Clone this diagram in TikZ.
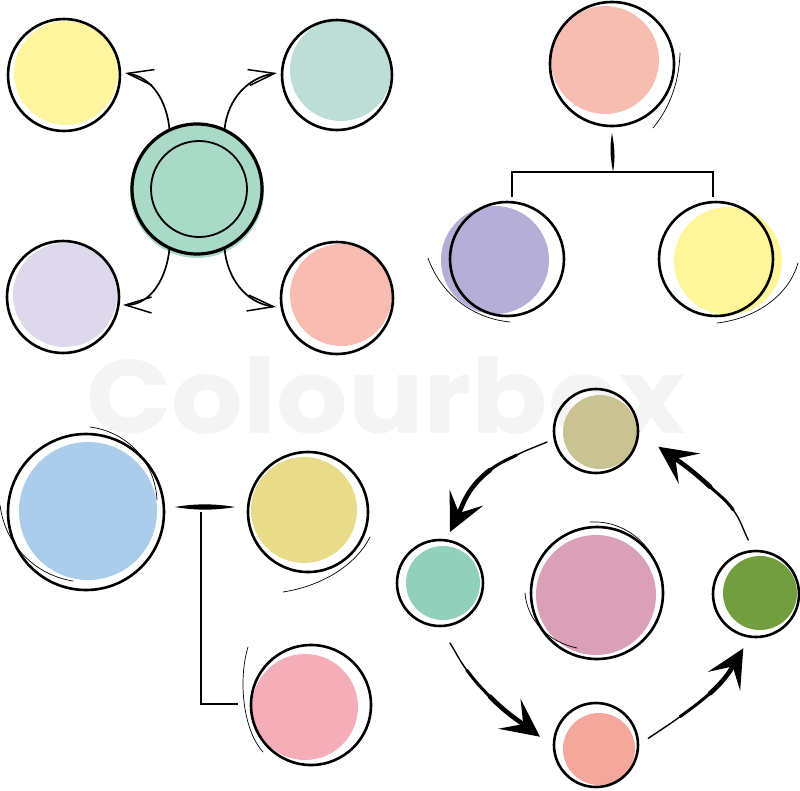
\documentclass[tikz,border=0pt]{standalone}
\usepackage{fontspec}
\newfontfamily\wmfont{Poppins}
\usetikzlibrary{arrows.meta}
\definecolor{cYelA}{HTML}{FFF59E}
\definecolor{cTeal}{HTML}{BDDED7}
\definecolor{cGreen}{HTML}{A9D9C7}
\definecolor{cLav}{HTML}{DDD8EC}
\definecolor{cSal}{HTML}{F8BCB0}
\definecolor{cSalT}{HTML}{F8BDB1}
\definecolor{cPur}{HTML}{B5AED6}
\definecolor{cYelB}{HTML}{FFF59B}
\definecolor{cBlue}{HTML}{ABCDEB}
\definecolor{cOlY}{HTML}{E8DC8A}
\definecolor{cPink}{HTML}{F5AEB8}
\definecolor{cOlv}{HTML}{C9C393}
\definecolor{cTea}{HTML}{91D1BC}
\definecolor{cPkC}{HTML}{D9A0B7}
\definecolor{cGrn}{HTML}{729E40}
\definecolor{cSalB}{HTML}{F5A79B}
\definecolor{cWm}{HTML}{F4F4F4}
\begin{document}
\begin{tikzpicture}[x=1pt,y=1pt,
  ring/.style={circle,draw=black,line width=2.6pt,inner sep=0pt,outer sep=0pt},
  sketch/.style={draw=black,line width=0.7pt,line cap=round},
  vline/.style={draw=black,line width=1.5pt},
  barb/.style={draw=black,line width=1.7pt,line cap=round,-{Straight Barb[length=26pt,width=16pt,line width=1.5pt]}},
  shaftA/.style={draw=black,line width=1.4pt,line cap=round},
  shaftB/.style={draw=black,line width=3pt,line cap=round},
  shaftC/.style={draw=black,line width=4.6pt,line cap=round,-{Stealth[length=38pt,width=37pt,inset=17pt]}},
]
\useasboundingbox (0,0) rectangle (800,-790);
\fill[white] (0,0) rectangle (800,-790);

% watermark
\node[text=cWm,font=\wmfont\bfseries\fontsize{104}{104}\selectfont,inner sep=0pt,anchor=base west,xscale=1.08] (wm) at (86,-433) {Colourbox};

% ---------- top-left: hub with four satellites ----------
\fill[cYelA] (66,-73) circle (52);
\node[ring,minimum size=112pt] (ylw) at (64,-75) {};
\fill[cTeal] (341,-70) circle (51);
\node[ring,minimum size=110pt] (tea) at (337,-75) {};
\fill[cGreen] (197,-191) circle (67);
\node[ring,line width=3.2pt,minimum size=130pt] (hub) at (197,-189) {};
\node[ring,line width=1.8pt,minimum size=96pt] (hubin) at (199,-189) {};
\fill[cLav] (65,-295) circle (52);
\node[ring,minimum size=112pt] (lav) at (63,-297) {};
\fill[cSal] (341,-295) circle (51);
\node[ring,minimum size=112pt] (sal) at (337,-298) {};

\coordinate (t1) at (125,-73);
\coordinate (t2) at (277,-73);
\coordinate (t3) at (123,-305);
\coordinate (t4) at (276,-307);
\draw[barb] (hub.115) to[out=95,in=-9] (t1);
\draw[barb] (hub.65) to[out=85,in=189] (t2);
\draw[barb] (hub.245) to[out=-95,in=0] (t3);
\draw[barb] (hub.295) to[out=-85,in=172] (t4);

% ---------- top-right: tree ----------
\fill[cSalT] (605,-60) circle (54);
\node[ring,minimum size=124pt] (root) at (612,-64) {};
\fill[cPur] (495,-260) circle (54);
\node[ring,minimum size=114pt] (pur) at (507,-259) {};
\fill[cYelB] (728,-261) circle (54);
\node[ring,minimum size=114pt] (yl2) at (716,-259) {};
\draw[sketch] (680,-53) .. controls (679,-85) and (668,-110) .. (653,-128);
\draw[sketch] (428,-258) .. controls (440,-292) and (470,-318) .. (510,-322);
\draw[sketch] (798,-263) .. controls (790,-292) and (760,-318) .. (717,-323);

\coordinate (tj) at (613,-172);
\fill ([yshift=-7pt]root.south) .. controls ++(-2.6,-15) and ++(-2.6,15) .. (tj)
      .. controls ++(2.6,15) and ++(2.6,-15) .. ([yshift=-7pt]root.south) -- cycle;
\draw[vline] ([shift={(5,5)}]pur.north) |- (tj) -| ([shift={(-3,5)}]yl2.north);

% ---------- bottom-left: bracket ----------
\fill[cBlue] (88,-511) circle (69);
\node[ring,minimum size=156pt] (blu) at (86,-512) {};
\draw[sketch] (90,-427) .. controls (128,-432) and (155,-462) .. (157,-500);
\draw[sketch] (0,-505) .. controls (5,-545) and (35,-575) .. (73,-581);
\fill[cOlY] (304,-510) circle (53);
\node[ring,minimum size=120pt] (oly) at (308,-512) {};
\draw[sketch] (370,-537) .. controls (356,-565) and (322,-586) .. (283,-592);
\fill[cPink] (305,-707) circle (53);
\node[ring,minimum size=120pt] (pnk) at (311,-705) {};
\draw[sketch] (248,-647) .. controls (238,-680) and (243,-730) .. (263,-752);

\coordinate (ba) at (175,-507);
\coordinate (bb) at (235,-507);
\coordinate (bc) at (201,-512);
\coordinate (bd) at (238,-704);
\fill (ba) .. controls (195,-503.5) and (215,-503.5) .. (bb)
      .. controls (215,-510.5) and (195,-510.5) .. (ba) -- cycle;
\draw[draw=black,line width=2pt] (bc) |- (bd);

% ---------- bottom-right: cycle ----------
\fill[cPkC] (596,-595) circle (60);
\node[ring,minimum size=132pt] (cen) at (597,-593) {};
\draw[sketch] (590,-522) .. controls (625,-520) and (655,-545) .. (663,-582);
\draw[sketch] (525,-593) .. controls (527,-620) and (548,-642) .. (577,-648);
\fill[cOlv] (600,-432) circle (37);
\node[ring,minimum size=84pt] (olv) at (596,-431) {};
\fill[cTea] (443,-583) circle (37);
\node[ring,minimum size=86pt] (tel) at (440,-583) {};
\fill[cGrn] (760,-593) circle (37);
\node[ring,minimum size=86pt] (grn) at (756,-594) {};
\fill[cSalB] (599,-749) circle (36);
\node[ring,minimum size=84pt] (slb) at (596,-745) {};

% arrow olive -> teal
\coordinate (a1) at (547,-442);
\coordinate (a1b) at (516.7,-455);
\coordinate (a1c) at (490,-470);
\coordinate (a1t) at (450,-532);
\draw[shaftA] (a1) to[out=203,in=26.6] (a1b);
\draw[shaftB] (a1b) to[out=206.6,in=37.3] (a1c);
\draw[shaftC] (a1c) to[out=217.3,in=64.5] (a1t);
% arrow teal -> salmon
\coordinate (a2) at (450,-643);
\coordinate (a2b) at (466.7,-670);
\coordinate (a2c) at (490,-696.7);
\coordinate (a2t) at (540,-736.7);
\draw[shaftA] (a2) to[out=-58,in=126.8] (a2b);
\draw[shaftB] (a2b) to[out=-53.2,in=135] (a2c);
\draw[shaftC] (a2c) to[out=-45,in=143.2] (a2t);
% arrow salmon -> green
\coordinate (a3) at (648.3,-738.3);
\coordinate (a3b) at (680,-716.7);
\coordinate (a3c) at (710,-693.3);
\coordinate (a3t) at (743.3,-648.3);
\draw[shaftA] (a3) to[out=34.3,in=216.2] (a3b);
\draw[shaftB] (a3b) to[out=36.2,in=221.4] (a3c);
\draw[shaftC] (a3c) to[out=41.4,in=239.7] (a3t);
% arrow green -> olive
\coordinate (a4) at (748.3,-540);
\coordinate (a4b) at (733.3,-510);
\coordinate (a4c) at (710,-486.7);
\coordinate (a4t) at (658.3,-446.7);
\draw[shaftA] (a4) to[out=116.6,in=305.8] (a4b);
\draw[shaftB] (a4b) to[out=125.8,in=317.2] (a4c);
\draw[shaftC] (a4c) to[out=137.2,in=324.8] (a4t);
\end{tikzpicture}
\end{document}
